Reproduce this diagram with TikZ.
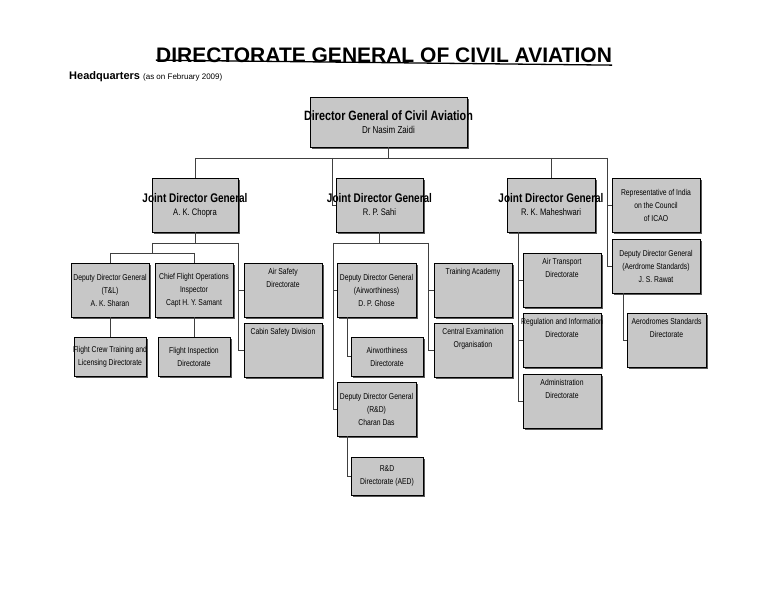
\documentclass[tikz,border=0pt]{standalone}
\usepackage{fontspec}
\setmainfont{Liberation Sans}
\newfontfamily\narrow[FakeStretch=0.8]{Liberation Sans}
\tikzset{
  bx/.style={draw=black, fill=black!22, line width=0.7pt, inner sep=0pt},
  lbl/.style={align=center, font=\narrow\fontsize{8.5}{13}\selectfont, inner sep=0pt},
  con/.style={draw=black!75, line width=0.8pt},
}
\newcommand\bxc[6]{%
  \fill[black!65] (#2+2,#3+2) rectangle (#4+2,#5+2);
  \node[bx, minimum width={(#4-#2)*1pt}, minimum height={(#5-#3)*1pt}] (#1) at ({(#2+#4)/2},{(#3+#5)/2}) {};
  \node[lbl] at (#1.center) {#6};}
\newcommand\bxt[6]{%
  \fill[black!65] (#2+2,#3+2) rectangle (#4+2,#5+2);
  \node[bx, minimum width={(#4-#2)*1pt}, minimum height={(#5-#3)*1pt}] (#1) at ({(#2+#4)/2},{(#3+#5)/2}) {};
  \node[lbl, anchor=north] at ([yshift=-5pt]#1.north) {#6};}
\begin{document}
\begin{tikzpicture}[x=1pt,y=-1pt]
\useasboundingbox (0,0) rectangle (768,593);
\fill[white] (0,0) rectangle (768,593);
\node[font=\bfseries\fontsize{21}{24}\selectfont, inner sep=0pt] (title) at (384,55) {DIRECTORATE GENERAL OF CIVIL AVIATION};
\draw[line width=1.3pt] (title.south west) ++(0,-2.5) -- ([yshift=-2.5pt]title.south east);
\node[anchor=west, inner sep=0pt] (hq) at (69,77) {\bfseries\fontsize{11}{13}\selectfont Headquarters \mdseries\fontsize{8}{10}\selectfont(as on February 2009)};

% top
\bxc{dg}{310}{97}{467}{147}{{\fontsize{13.5}{16}\selectfont\bfseries Director General of Civil Aviation}\\{\fontsize{10}{13}\selectfont Dr Nasim Zaidi}}
\bxc{jdga}{152}{178}{238}{232}{{\fontsize{12.5}{15}\selectfont\bfseries Joint Director General}\\{\fontsize{9.5}{13}\selectfont A. K. Chopra}}
\bxc{jdgb}{336}{178}{423}{232}{{\fontsize{12.5}{15}\selectfont\bfseries Joint Director General}\\{\fontsize{9.5}{13}\selectfont R. P. Sahi}}
\bxc{jdgc}{507}{178}{595}{232}{{\fontsize{12.5}{15}\selectfont\bfseries Joint Director General}\\{\fontsize{9.5}{13}\selectfont R. K. Maheshwari}}
\bxc{rep}{612}{178}{700}{232}{Representative of India\\on the Council\\of ICAO}
\bxc{ddgae}{612}{239}{700}{293}{Deputy Director General\\(Aerdrome Standards)\\J. S. Rawat}
\bxt{aes}{627}{313}{706}{367}{Aerodromes Standards\\Directorate}

% JDG1 subtree
\bxc{ddgtl}{71}{263}{149}{317}{Deputy Director General\\(T\&L)\\A. K. Sharan}
\bxc{cfoi}{155}{263}{233}{317}{Chief Flight Operations\\Inspector\\Capt H. Y. Samant}
\bxt{airs}{244}{263}{322}{317}{Air Safety\\Directorate}
\bxt{cab}{244}{323}{322}{377}{Cabin Safety Division}
\bxc{fct}{74}{337}{146}{376}{Flight Crew Training and\\Licensing Directorate}
\bxc{fid}{158}{337}{230}{376}{Flight Inspection\\Directorate}

% JDG2 subtree
\bxc{ddgaw}{337}{263}{416}{317}{Deputy Director General\\(Airworthiness)\\D. P. Ghose}
\bxc{awd}{351}{337}{423}{376}{Airworthiness\\Directorate}
\bxc{ddgrd}{337}{382}{416}{436}{Deputy Director General\\(R\&D)\\Charan Das}
\bxc{rdd}{351}{457}{423}{495}{R\&D\\Directorate (AED)}
\bxt{ta}{434}{263}{512}{317}{Training Academy}
\bxt{ceo}{434}{323}{512}{377}{Central Examination\\Organisation}

% JDG3 subtree
\bxt{atd}{523}{253}{601}{307}{Air Transport\\Directorate}
\bxt{rid}{523}{313}{601}{367}{Regulation and Information\\Directorate}
\bxt{adm}{523}{374}{601}{428}{Administration\\Directorate}

% connectors
\draw[con] (dg.south) -- (388.5,158);
\draw[con] (195,158) -- (607,158);
\draw[con] (195,158) -- (jdga.north);
\draw[con] (551,158) -- (jdgc.north);
\draw[con] (332,158) |- (jdgb.west);
\draw[con] (607,158) |- (rep.west);
\draw[con] (607,158) |- (ddgae.west);
\draw[con] (623,293) |- (aes.west);

\draw[con] (jdga.south) -- (195,243);
\draw[con] (152,243) -- (238,243);
\draw[con] (152,243) -- (152,253);
\draw[con] (110,253) -- (194,253);
\draw[con] (110,253) -- (ddgtl.north);
\draw[con] (194,253) -- (cfoi.north);
\draw[con] (238,243) |- (airs.west);
\draw[con] (238,243) |- (cab.west);
\draw[con] (ddgtl.south) -- (fct.north);
\draw[con] (cfoi.south) -- (fid.north);

\draw[con] (jdgb.south) -- (379.5,243);
\draw[con] (333,243) -- (428,243);
\draw[con] (333,243) |- (ddgaw.west);
\draw[con] (333,243) |- (ddgrd.west);
\draw[con] (347,317) |- (awd.west);
\draw[con] (347,436) |- (rdd.west);
\draw[con] (428,243) |- (ta.west);
\draw[con] (428,243) |- (ceo.west);

\draw[con] (518,232) |- (atd.west);
\draw[con] (518,232) |- (rid.west);
\draw[con] (518,232) |- (adm.west);
\end{tikzpicture}
\end{document}
